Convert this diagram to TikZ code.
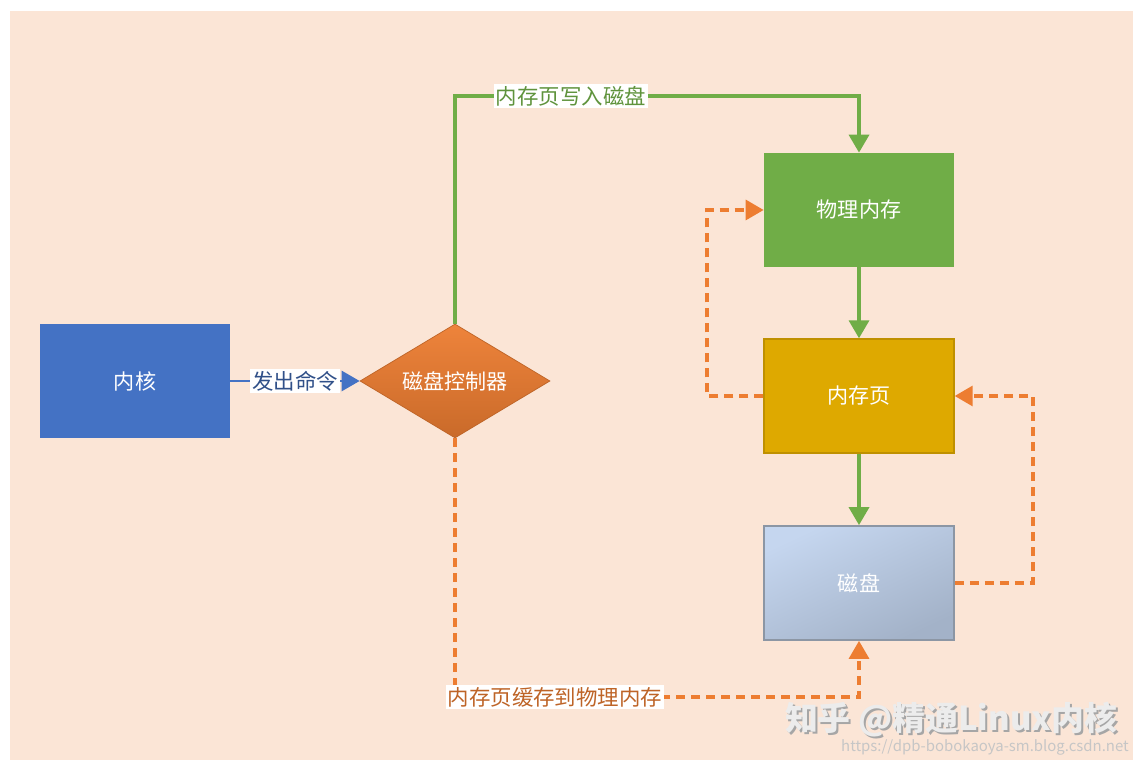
\documentclass[tikz,border=0pt]{standalone}
\usepackage{fontspec}
\setmainfont{Noto Sans CJK SC}
\usepackage{tikz}
\usetikzlibrary{arrows.meta,shapes.geometric}

\definecolor{peach}{HTML}{FBE5D6}
\definecolor{kblue}{HTML}{4472C4}
\definecolor{kgreen}{HTML}{70AD47}
\definecolor{korange}{HTML}{ED7D31}
\definecolor{kgold}{HTML}{DEA900}
\definecolor{kgoldline}{HTML}{BF9000}
\definecolor{disktop}{HTML}{C5D6EF}
\definecolor{diskbot}{HTML}{A3B2C8}
\definecolor{diskline}{HTML}{8C96A4}

\tikzset{
	box/.style={rectangle, minimum width=3.8cm, minimum height=2.28cm, inner sep=0pt,
		text=white, font=\fontsize{12}{14}\selectfont},
	tag/.style={rectangle, fill=white, inner sep=1pt, font=\fontsize{12.2}{14}\selectfont},
	tip/.style={-{Triangle[width=0.4cm,length=0.36cm]}},
	greenline/.style={tip, line width=2pt, draw=kgreen},
	orangeline/.style={tip, line width=1.8pt, draw=korange, dash pattern=on 0.18cm off 0.12cm}
}

\begin{document}
\begin{tikzpicture}
		\useasboundingbox (0,0) rectangle (22.9,15.34);
		\fill[peach] (0.2,0.14) rectangle (22.66,15.12);
%		\draw[help lines] (0,0) grid (23,15);
		\path (9.10,13.42) coordinate (wr_left);
		\path (17.18,13.42) coordinate (wr_right);
		\path (9.10,1.40) coordinate (cache_left);
		\path (17.18,1.40) coordinate (cache_right);
		\path (14.14,7.42) coordinate (back_low);
		\path (14.14,11.14) coordinate (back_high);
		\path (20.66,3.68) coordinate (up_low);
		\path (20.66,7.42) coordinate (up_high);

		\path (2.70,7.72) node(kernel) [box,fill=kblue] {内核};
		\path (9.10,7.72) node(ctrl) [diamond,aspect=1.667,minimum width=3.8cm,minimum height=2.28cm,
			inner sep=0pt,draw=korange!80!black,top color=korange!95!white,bottom color=korange!85!black,
			text=white,font=\fontsize{12}{14}\selectfont] {磁盘控制器};
		\path (17.18,11.14) node(phymem) [box,fill=kgreen] {物理内存};
		\path (17.18,7.42) node(page) [box,fill=kgold,draw=kgoldline,line width=0.8pt] {内存页};
		\path (17.18,3.68) node(disk) [box,draw=diskline,line width=1pt,top color=disktop,
			bottom color=diskbot,shading angle=25] {磁盘};

		\draw[line width=1.6pt,draw=kblue,{Triangle[width=0.4cm,length=0.36cm]}-] (ctrl.west) --
			node[tag,text=kblue!70!black] {发出命令} (kernel.east);
		\draw[greenline] (ctrl.north) -- (wr_left) --
			node[pos=0.287,tag,text=kgreen!85!black] {内存页写入磁盘} (wr_right) -- (phymem.north);
		\draw[greenline] (phymem.south) -- (page.north);
		\draw[greenline] (page.south) -- (disk.north);
		\draw[orangeline] (page.west) -- (back_low) -- (back_high) -- (phymem.west);
		\draw[orangeline] (disk.east) -- (up_low) -- (up_high) -- (page.east);
		\draw[orangeline] (ctrl.south) -- (cache_left) --
			node[pos=0.2475,tag,text=korange!80!black] {内存页缓存到物理内存} (cache_right) -- (disk.south);

		\path (19.06,0.90) node(wmshadow) [text=gray!70,font=\fontsize{18.7}{21}\selectfont\bfseries] {知乎 @精通Linux内核};
		\path (19.02,0.94) node(watermark) [text=gray!15,font=\fontsize{18.7}{21}\selectfont\bfseries] {知乎 @精通Linux内核};
		\path (19.70,0.40) node(url) [text=gray!45,font=\fontsize{8.5}{10}\selectfont] {https://dpb-bobokaoya-sm.blog.csdn.net};
	\end{tikzpicture}
\end{document}
